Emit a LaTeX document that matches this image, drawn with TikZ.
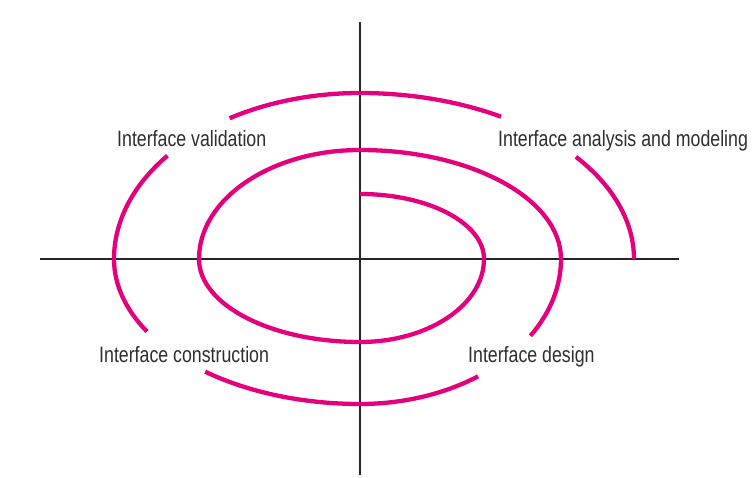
\documentclass[tikz,border=0pt]{standalone}
\usepackage{fontspec}
\setmainfont{Liberation Sans}[FakeStretch=0.8]
\definecolor{spiral}{RGB}{228,0,124}
\definecolor{labeltext}{RGB}{45,45,50}
\tikzset{
  axis/.style={line width=2.3pt, draw=black!85},
  spiralpath/.style={line width=4.3pt, draw=spiral},
  phase/.style={anchor=base west, inner sep=0pt, text=labeltext, font=\fontsize{22.2}{25}\selectfont}
}
\begin{document}
\begin{tikzpicture}[x=1pt,y=1pt]
\useasboundingbox (-360,-218) rectangle (393,259);
% axes
\coordinate (xl) at (-320,0);
\coordinate (xr) at (319,0);
\coordinate (yt) at (0,237);
\coordinate (yb) at (0,-216);
\draw[axis] (xl) -- (xr);
\draw[axis] (yt) -- (yb);
% spiral
\draw[spiralpath] (0,65)
  arc[start angle=90, end angle=0, x radius=124, y radius=65]
  arc[start angle=0, end angle=-90, x radius=124, y radius=83]
  arc[start angle=-90, end angle=-180, x radius=161, y radius=83]
  arc[start angle=180, end angle=90, x radius=161, y radius=109]
  arc[start angle=90, end angle=0, x radius=201, y radius=109]
  arc[start angle=0, end angle=-32, x radius=201, y radius=145];
\draw[spiralpath] ({201*cos(-54)},{145*sin(-54)})
  arc[start angle=-54, end angle=-90, x radius=201, y radius=145]
  arc[start angle=-90, end angle=-129, x radius=246, y radius=145];
\draw[spiralpath] ({246*cos(-150)},{145*sin(-150)})
  arc[start angle=-150, end angle=-180, x radius=246, y radius=145]
  arc[start angle=180, end angle=141.5, x radius=246, y radius=166];
\draw[spiralpath] ({246*cos(122)},{166*sin(122)})
  arc[start angle=122, end angle=90, x radius=246, y radius=166]
  arc[start angle=90, end angle=59, x radius=274, y radius=166];
\draw[spiralpath] ({274*cos(38)},{166*sin(38)})
  arc[start angle=38, end angle=0, x radius=274, y radius=166];
% labels
\node[phase] (val) at (-243,112) {Interface validation};
\node[phase] (ana) at (138,112) {Interface analysis and modeling};
\node[phase] (con) at (-261,-103) {Interface construction};
\node[phase] (des) at (108,-103) {Interface design};
\end{tikzpicture}
\end{document}
